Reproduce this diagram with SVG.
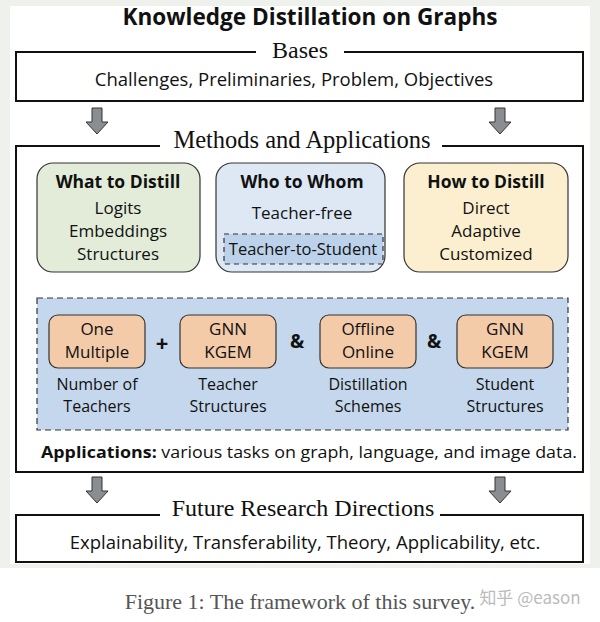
<svg xmlns="http://www.w3.org/2000/svg" width="600" height="622" viewBox="0 0 600 622">
<defs>
<style>
.s{font-family:"Open Sans","Liberation Sans",sans-serif;fill:#111;text-anchor:middle}
.b{font-weight:bold}
.r{font-family:"Liberation Serif",serif;fill:#111;text-anchor:middle}
.frame{fill:#fff;stroke:#111;stroke-width:2}
.arr{fill:#8a8e93;stroke:#333;stroke-width:1}
.ob{fill:#f3cba9;stroke:#333;stroke-width:1.2}
.d{stroke:#333;stroke-width:1.2;stroke-dasharray:6,4;fill:none}
</style>
<path id="ar" class="arr" d="M-5,0 H5 V14 H11 L0,26 L-11,14 H-5 Z"/>
</defs>
<rect width="600" height="622" fill="#fff"/>
<rect x="0" y="0" width="600" height="568" fill="#eef1ec"/>
<rect x="10" y="6" width="580" height="558" fill="#fff"/>
<text class="s b" x="310" y="25" font-size="22.5" textLength="375" lengthAdjust="spacingAndGlyphs">Knowledge Distillation on Graphs</text>
<g id="bases">
<rect class="frame" x="16" y="52" width="567" height="49"/>
<rect x="256" y="38" width="88" height="22" fill="#fff"/>
<text class="r" x="300" y="58" font-size="24">Bases</text>
<text class="s" x="294" y="86" font-size="18.5">Challenges, Preliminaries, Problem, Objectives</text>
</g>
<g id="connectors">
<use href="#ar" x="97" y="108"/>
<use href="#ar" x="500" y="108"/>
<use href="#ar" x="97" y="477"/>
<use href="#ar" x="500" y="477"/>
<line class="d" x1="222" y1="265" x2="158" y2="298"/>
<line class="d" x1="385" y1="265" x2="448" y2="298"/>
</g>
<g id="methods">
<rect class="frame" x="16" y="146" width="567" height="326"/>
<rect x="160" y="128" width="282" height="26" fill="#fff"/>
<text class="r" x="302" y="148" font-size="24.5">Methods and Applications</text>
</g>
<g id="what">
<rect x="37" y="163" width="163" height="109" rx="16" fill="#e3ecd9" stroke="#333" stroke-width="1.2"/>
<text class="s b" x="118" y="188" font-size="17.5">What to Distill</text>
<text class="s" x="118" y="214" font-size="17">Logits</text>
<text class="s" x="118" y="237" font-size="17">Embeddings</text>
<text class="s" x="118" y="260" font-size="17">Structures</text>
</g>
<g id="who">
<rect x="216" y="163" width="169" height="109" rx="16" fill="#dde8f4" stroke="#333" stroke-width="1.2"/>
<text class="s b" x="302" y="188" font-size="17.5">Who to Whom</text>
<text class="s" x="302" y="219" font-size="17">Teacher-free</text>
<rect x="224" y="234" width="159" height="30" fill="#bcd2ea" stroke="#333" stroke-width="1.2" stroke-dasharray="5,4"/>
<text class="s" x="303" y="255" font-size="16.5">Teacher-to-Student</text>
</g>
<g id="how">
<rect x="404" y="163" width="164" height="109" rx="16" fill="#fbefcf" stroke="#333" stroke-width="1.2"/>
<text class="s b" x="486" y="188" font-size="17.5">How to Distill</text>
<text class="s" x="486" y="214" font-size="17">Direct</text>
<text class="s" x="486" y="237" font-size="17">Adaptive</text>
<text class="s" x="486" y="260" font-size="17">Customized</text>
</g>
<g id="detail">
<rect x="37" y="298" width="531" height="132" fill="#c4d7ec" stroke="#333" stroke-width="1.2" stroke-dasharray="6,4"/>
</g>
<g id="n1">
<rect class="ob" x="49" y="315" width="96" height="53" rx="9"/>
<text class="s" x="97" y="335" font-size="17">One</text>
<text class="s" x="97" y="358" font-size="17">Multiple</text>
<text class="s" x="97" y="390" font-size="16">Number of</text>
<text class="s" x="97" y="412" font-size="16">Teachers</text>
</g>
<text class="s b" x="162" y="351" font-size="22">+</text>
<g id="n2">
<rect class="ob" x="180" y="315" width="96" height="53" rx="9"/>
<text class="s" x="228" y="335" font-size="17">GNN</text>
<text class="s" x="228" y="358" font-size="17">KGEM</text>
<text class="s" x="228" y="390" font-size="16">Teacher</text>
<text class="s" x="228" y="412" font-size="16">Structures</text>
</g>
<text class="s b" x="297" y="348" font-size="19">&amp;</text>
<g id="n3">
<rect class="ob" x="320" y="315" width="96" height="53" rx="9"/>
<text class="s" x="368" y="335" font-size="17">Offline</text>
<text class="s" x="368" y="358" font-size="17">Online</text>
<text class="s" x="368" y="390" font-size="16">Distillation</text>
<text class="s" x="368" y="412" font-size="16">Schemes</text>
</g>
<text class="s b" x="434" y="348" font-size="19">&amp;</text>
<g id="n4">
<rect class="ob" x="457" y="315" width="96" height="53" rx="9"/>
<text class="s" x="505" y="335" font-size="17">GNN</text>
<text class="s" x="505" y="358" font-size="17">KGEM</text>
<text class="s" x="505" y="390" font-size="16">Student</text>
<text class="s" x="505" y="412" font-size="16">Structures</text>
</g>
<text class="s" x="309" y="458" font-size="16.5" textLength="536" lengthAdjust="spacingAndGlyphs"><tspan font-weight="bold">Applications:</tspan> various tasks on graph, language, and image data.</text>
<g id="future">
<rect class="frame" x="16" y="515" width="567" height="47"/>
<rect x="160" y="494" width="280" height="26" fill="#fff"/>
<text class="r" x="303" y="516" font-size="24">Future Research Directions</text>
<text class="s" x="305" y="549" font-size="18.5">Explainability, Transferability, Theory, Applicability, etc.</text>
</g>
<text class="r" x="300" y="609" font-size="22" style="fill:#555">Figure 1: The framework of this survey.</text>
<text x="530" y="604" font-family="Noto Sans CJK SC, sans-serif" font-size="17" fill="#bbb" text-anchor="middle">知乎 @eason</text>
</svg>
